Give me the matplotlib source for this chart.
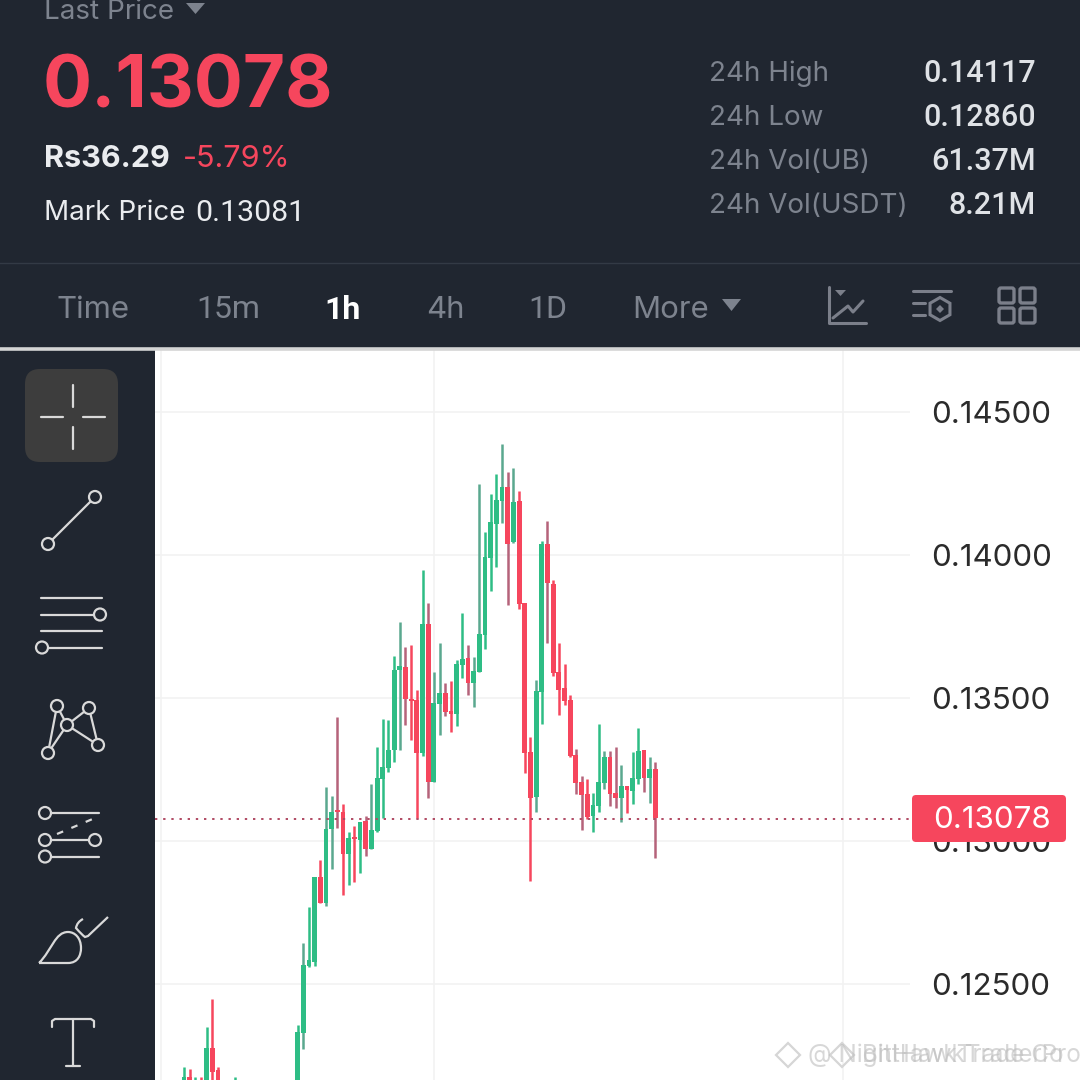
#Candlestick chart recreated from a phone screenshot of a trading app
import matplotlib
matplotlib.use("Agg")
import matplotlib.pyplot as plt
import numpy as np
from matplotlib.patches import FancyBboxPatch, Circle, Polygon, PathPatch, RegularPolygon
from matplotlib.path import Path

plt.rcParams['font.family'] = ['Inter', 'DejaVu Sans']

#Hourly candles, prices in units of 0.00001
#Candles that stay under the bottom edge of the picture are left out
candle = [0, 1, 2, 3, 4, 5, 6, 9] + list(range(20, 84))
open_p = [12129, 12175, 12129, 12140, 12140, 12276, 12199, 12129, 12140,
          12329, 12563, 12577, 12874, 12783, 13042, 13108, 13101, 12955, 13014,
          13004, 13070, 12972, 13035, 13217, 13255, 13318, 13598, 13608, 13497,
          13493, 13308, 13759, 13206, 13479, 13517, 13455, 13444, 13615, 13640,
          13552, 13591, 13720, 13990, 14108, 14189, 14238, 14045, 14189, 13832,
          13311, 13154, 13521, 14038, 13899, 13591, 13535, 13493, 13301, 13206,
          13164, 13087, 13122, 13203, 13294, 13168, 13150, 13192, 13175, 13217,
          13318, 13220, 13252]
close_p = [12175, 12129, 12140, 12129, 12276, 12192, 12140, 12140, 12333,
           12567, 12584, 12874, 12783, 13042, 13101, 13101, 12955, 13010, 13007,
           13066, 12972, 13038, 13220, 13259, 13318, 13598, 13612, 13497, 13490,
           13308, 13759, 13206, 13483, 13517, 13451, 13444, 13619, 13636, 13552,
           13594, 13724, 13993, 14115, 14192, 14238, 14038, 14185, 13829, 13308,
           13150, 13525, 14038, 13902, 13587, 13528, 13490, 13297, 13203, 13161,
           13084, 13126, 13206, 13294, 13164, 13150, 13192, 13178, 13220, 13315,
           13220, 13252, 13080]
high_p = [12210, 12203, 12175, 12175, 12350, 12448, 12210, 12175, 12357,
          12644, 12769, 12874, 12934, 13189, 13157, 13434, 13129, 13031, 13052,
          13066, 13087, 13199, 13329, 13427, 13423, 13647, 13766, 13678, 13685,
          13528, 13947, 13832, 13591, 13692, 13552, 13559, 13633, 13797, 13685,
          13643, 14248, 14080, 14213, 14283, 14388, 14290, 14304, 14224, 13832,
          13364, 13563, 14049, 14119, 13913, 13692, 13619, 13510, 13322, 13227,
          13217, 13168, 13409, 13315, 13315, 13329, 13266, 13192, 13311, 13395,
          13318, 13294, 13276]
low_p = [12094, 12094, 12094, 12094, 12094, 12140, 12094, 12094, 12094,
         12273, 12560, 12563, 12783, 12773, 12902, 13045, 12811, 12846, 12857,
         12888, 12948, 12972, 13031, 13080, 13241, 13276, 13318, 13406, 13353,
         13080, 13297, 13150, 13206, 13371, 13437, 13381, 13402, 13570, 13510,
         13469, 13591, 13671, 13874, 13958, 14112, 13825, 14042, 13811, 13238,
         12860, 13101, 13409, 13692, 13577, 13441, 13476, 13294, 13164, 13038,
         13077, 13031, 13101, 13182, 13122, 13115, 13066, 13098, 13129, 13199,
         13171, 13133, 12941]
#Candles whose wick looks washed out in the screenshot
dull_wicks = [21, 25, 26, 27, 32, 33, 38, 39, 43, 44, 45, 46, 50, 51, 52, 56, 57, 58,
              62, 64, 69, 70, 74, 75, 76, 77, 81, 82, 83]
y_ticks = [0.125, 0.130, 0.135, 0.140, 0.145]
time_lines = [-4, 44, 116]
last_price = 0.13078

#Header texts
stat_names = ["24h High", "24h Low", "24h Vol(UB)", "24h Vol(USDT)"]
stat_values = ["0.14117", "0.12860", "61.37M", "8.21M"]
tab_names = ["Time", "15m", "1h", "4h", "1D", "More"]

DARK = "#202630"
GREEN = "#2ebd85"
RED = "#f6465d"
GREEN_DULL = "#5aa88f"
RED_DULL = "#b5637a"
GREY = "#7d838e"
ICON = "#d9d9d9"
TOOL = "#7b7f8a"

x_arr = np.array(candle)
o = np.array(open_p) / 1e5
c = np.array(close_p) / 1e5
h = np.array(high_p) / 1e5
l = np.array(low_p) / 1e5

fig = plt.figure(figsize=(10.8, 10.8), dpi=100, facecolor=DARK)

#White chart area, 155..1080 px across and 350..1080 px down
ax = fig.add_axes([155 / 1080, 0, 925 / 1080, 730 / 1080], facecolor="white", zorder=1)
ax.set_xlim(-5.1, 157.75)
ax.set_ylim(0.12164, 0.14717)
for s in ax.spines.values():
    s.set_visible(False)

#Grid stops before the price scale
ax.hlines(y_ticks, -5.1, 127.9, color="#f2f2f2", lw=1.2, zorder=0)
for t in time_lines:
    ax.axvline(t, color="#f2f2f2", lw=1.2, zorder=0)

colors = np.where(c >= o, GREEN, RED)
wick_colors = []
for i in range(len(candle)):
    if candle[i] in dull_wicks:
        wick_colors.append(GREEN_DULL if c[i] >= o[i] else RED_DULL)
    else:
        wick_colors.append(colors[i])
ax.vlines(x_arr, l, h, colors=wick_colors, lw=1.8, zorder=2)
ax.bar(x_arr, np.maximum(np.abs(c - o), 0.00003), bottom=np.minimum(o, c), width=0.85,
       color=colors, zorder=3)

ax.hlines(last_price, -5.1, 127.9, color="#b04a63", lw=1.4, linestyles=(0, (1.2, 3.0)), zorder=4)

ax.yaxis.tick_right()
ax.set_yticks(y_ticks)
ax.set_yticklabels(["%.5f" % v for v in y_ticks], ha="left", fontsize=22.5, color="#2b2b2b")
ax.tick_params(axis="y", length=0, pad=-107)
ax.set_xticks([])

#Overlay in screen pixels for the app interface
ui = fig.add_axes([0, 0, 1, 1], zorder=2)
ui.set_xlim(0, 1080)
ui.set_ylim(1080, 0)
ui.axis("off")
ui.patch.set_alpha(0)


def txt(x, y, s, size, color="white", weight="normal", ha="left", family=None):
    fam = family if family else ['Inter', 'DejaVu Sans']
    ui.text(x, y + 3, s, fontsize=size, color=color, fontweight=weight, ha=ha, va="center", family=fam)


def line(xs, ys, color=ICON, lw=1.6, **kw):
    ui.plot(xs, ys, color=color, lw=lw, solid_capstyle="round", **kw)


def ring(x, y, r=6, color=ICON, lw=1.6):
    ui.add_patch(Circle((x, y), r, fc=DARK, ec=color, lw=lw, zorder=5))


#Header
ui.plot([0, 1080], [263, 263], color="#333a45", lw=1)
ui.plot([0, 1080], [348.5, 348.5], color="#d4d4d4", lw=2.6)
txt(44, 9, "Last Price", 20, GREY)
ui.add_patch(Polygon([(186, 3), (205, 3), (195.5, 14)], fc=GREY, ec="none"))
txt(43, 85, "0.13078", 52.4, RED, "bold")
txt(44, 156, "Rs36.29", 22, "#eaecef", "bold")
txt(183, 156, "-5.79%", 22, RED)
txt(44, 210, "Mark Price", 20, "#eaecef")
txt(195, 210, "0.13081", 21.8, "#eaecef", family=['Roboto', 'DejaVu Sans'])
for i in range(4):
    txt(709, 71 + 44 * i, stat_names[i], 20, GREY)
    txt(1036, 71 + 44 * i, stat_values[i], 22, "#dfe2e6", "medium", ha="right", family=['Roboto', 'DejaVu Sans'])

tab_x = [57, 196, 324, 426, 528, 632]
for i in range(6):
    if tab_names[i] == "1h":
        txt(tab_x[i], 307, tab_names[i], 23, "white", "bold", family=['Roboto', 'DejaVu Sans'])
    elif tab_names[i] in ["15m", "1D"]:
        txt(tab_x[i], 307, tab_names[i], 23, GREY, family=['Roboto', 'DejaVu Sans'])
    else:
        txt(tab_x[i], 307, tab_names[i], 22.4, GREY)
ui.add_patch(Polygon([(722, 299), (741, 299), (731.5, 311)], fc=GREY, ec="none"))

#Top right icons
line([829, 829, 866], [287, 323, 323], TOOL, 2.2)
ui.add_patch(Polygon([(835, 290), (846, 290), (840.5, 296)], fc=TOOL, ec="none"))
line([833, 848, 853, 863], [318, 306, 312, 301], TOOL, 2.2)
line([913, 951], [291, 291], TOOL, 2.2)
line([913, 925], [303, 303], TOOL, 2.2)
line([913, 925], [315, 315], TOOL, 2.2)
ui.add_patch(RegularPolygon((940, 309), 6, radius=11.5, fc="none", ec=TOOL, lw=2.2))
ui.add_patch(Polygon([(940, 305), (944, 309), (940, 313), (936, 309)], fc=TOOL, ec="none"))
for bx in [999, 1020]:
    for by in [288, 308]:
        ui.add_patch(FancyBboxPatch((bx, by), 15, 15, boxstyle="round,pad=0,rounding_size=2",
                                    fc="none", ec=TOOL, lw=2.4))

#Left toolbar
ui.add_patch(FancyBboxPatch((25, 369), 93, 93, boxstyle="round,pad=0,rounding_size=15",
                            fc="#3d3d3d", ec="none"))
line([41, 63], [416.5, 416.5])
line([83, 105], [416.5, 416.5])
line([72.5, 72.5], [385, 407])
line([72.5, 72.5], [427, 449])

line([48, 95], [544, 497])
ring(48, 544)
ring(95, 497)

for yy in [598, 614.5, 631, 647.5]:
    line([41, 102], [yy, yy])
ring(100, 614.5)
ring(42, 647.5)

px = [57, 89, 67, 48, 98]
py = [706, 708, 725, 753, 745]
for a, b in [(0, 3), (0, 2), (2, 3), (2, 1), (2, 4), (1, 4)]:
    line([px[a], px[b]], [py[a], py[b]])
for a in range(5):
    ring(px[a], py[a])

for yy in [813, 840, 856.5]:
    line([45, 99], [yy, yy])
line([57, 95], [834, 818], ls=(0, (3, 4)))
ring(45, 813)
ring(45, 840)
ring(95, 840)
ring(45, 856.5)

brush = Path([(39, 963), (68, 963), (78, 963), (81, 955), (81, 948), (81, 938), (75, 932), (68, 932),
              (55, 932), (52, 950), (39, 963)],
             [Path.MOVETO, Path.LINETO, Path.CURVE4, Path.CURVE4, Path.CURVE4, Path.CURVE4, Path.CURVE4,
              Path.CURVE4, Path.CURVE4, Path.CURVE4, Path.CURVE4])
ui.add_patch(PathPatch(brush, fc="none", ec=ICON, lw=1.6))
handle = Path([(83, 919), (77, 922), (76, 928), (82, 935), (85, 937), (88, 936), (108, 917)],
              [Path.MOVETO, Path.CURVE3, Path.CURVE3, Path.CURVE3, Path.CURVE3, Path.LINETO, Path.LINETO])
ui.add_patch(PathPatch(handle, fc="none", ec=ICON, lw=1.6))

line([52, 52, 55, 91, 94, 94], [1027, 1021, 1019, 1019, 1021, 1027])
line([73, 73], [1019, 1066])
line([66, 80], [1066, 1066])

#Last price tag, sits over the 0.13000 label
ui.add_patch(FancyBboxPatch((912, 795), 154, 47, boxstyle="round,pad=0,rounding_size=4",
                            fc=RED, ec="none"))
txt(992, 817.5, "0.13078", 22.5, "white", ha="center")

#Watermarks drawn twice on top of each other
for wx, name in [(808, "@ NightHawkTraderPro"), (862, "BitHawkTrade Co")]:
    ui.add_patch(Polygon([(wx - 32, 1055), (wx - 20, 1043), (wx - 8, 1055), (wx - 20, 1067)],
                         fc="none", ec="#d6d6d6", lw=1.6))
    ui.text(wx, 1055, name, fontsize=17.5, color="#bdbdbd", alpha=0.6, va="center")

fig.savefig("out.png", dpi=100, facecolor=DARK)
